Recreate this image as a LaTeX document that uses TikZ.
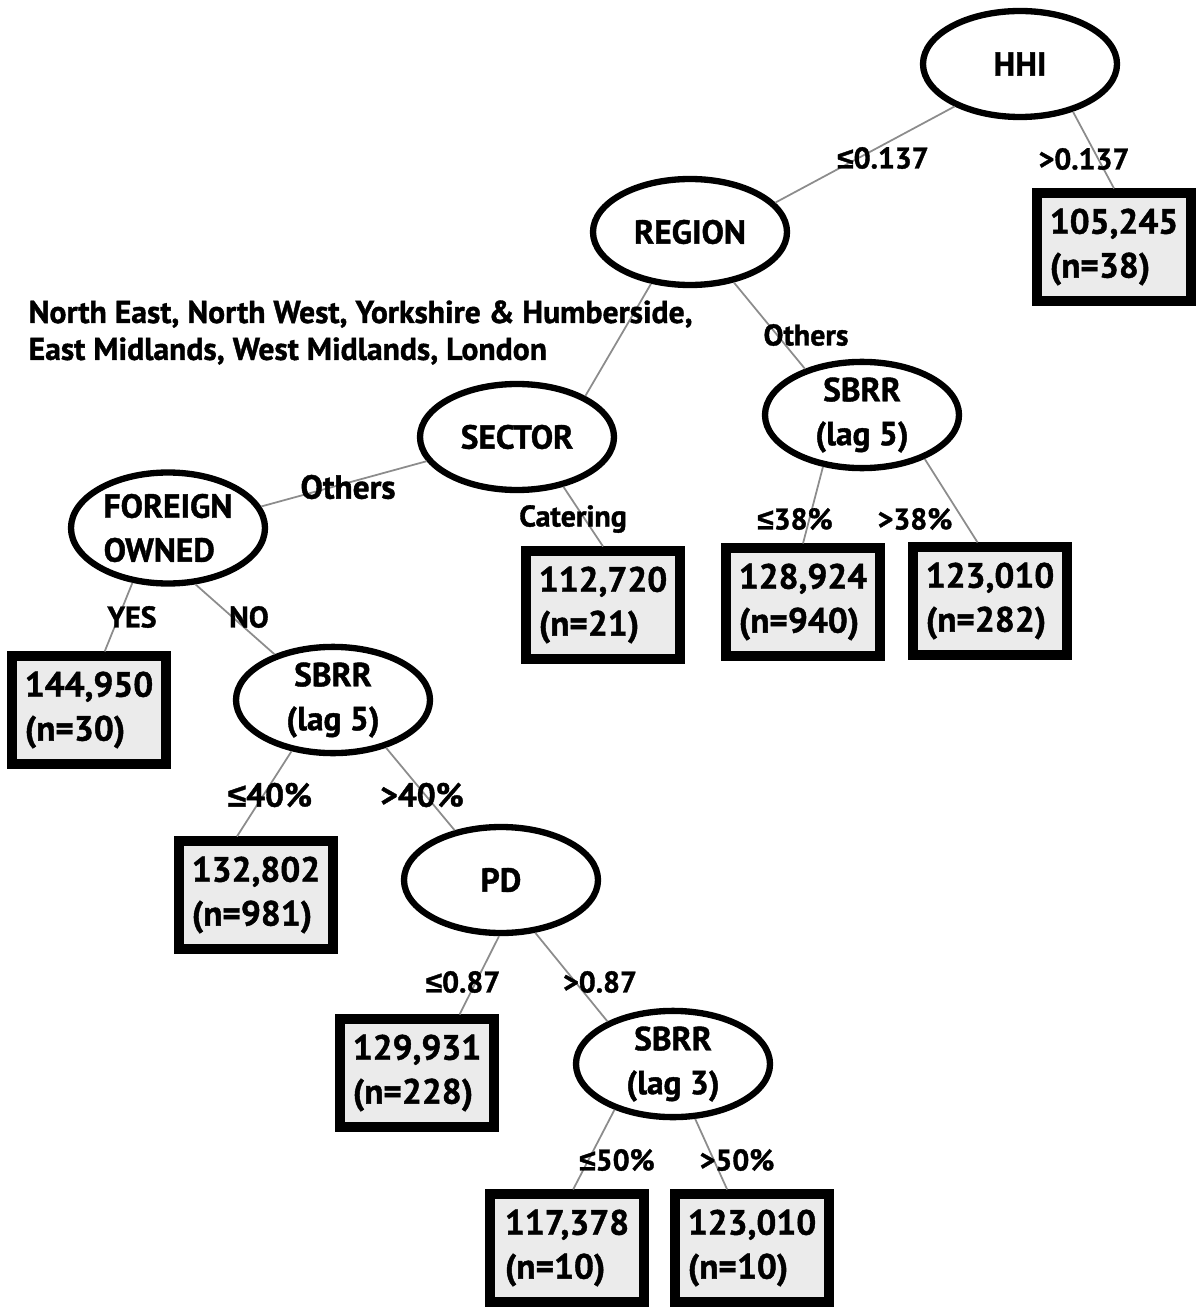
\documentclass[tikz,border=0pt]{standalone}
\usepackage{fontspec}
\setmainfont{PT Sans}[BoldFeatures={FakeBold=1.2}]
\newfontfamily\symfont{Liberation Sans}[BoldFeatures={FakeBold=1.2}]
\newcommand\lesym{{\symfont\bfseries ≤}}
\usetikzlibrary{shapes.geometric}

\begin{document}
\begin{tikzpicture}[font=\bfseries,
  split/.style={draw, ellipse, line width=1.8pt, inner sep=0pt, minimum width=1.94cm, minimum height=1.06cm, align=center, font=\bfseries\fontsize{9.5}{12.5}\selectfont},
  leaf/.style={draw, rectangle, line width=2.6pt, fill=black!8, inner sep=0pt, minimum width=1.54cm, minimum height=1.08cm, align=left, font=\bfseries\fontsize{10}{12.5}\selectfont},
  edge/.style={draw=black!45, line width=0.5pt},
  cond/.style={inner sep=0pt, font=\bfseries\fontsize{8.5}{10}\selectfont}]
\useasboundingbox (0,0) rectangle (12,-13.14);
% split nodes
\node[split] (hhi) at (10.20,-0.64) {HHI};
\node[split] (region) at (6.90,-2.32) {REGION};
\node[split] (sbrrr) at (8.62,-4.15) {SBRR\\(lag 5)};
\node[split] (sector) at (5.17,-4.37) {SECTOR};
\node[split, align=left, minimum height=1.11cm] (foreign) at (1.68,-5.28) {FOREIGN\\OWNED};
\node[split] (sbrrl) at (3.33,-7.00) {SBRR\\(lag 5)};
\node[split] (pd) at (5.01,-8.80) {PD};
\node[split] (sbrrt) at (6.73,-10.64) {SBRR\\(lag 3)};
% leaves
\node[leaf] (n38) at (11.14,-2.47) {105,245\\(n=38)};
\node[leaf] (n21) at (6.03,-6.05) {112,720\\(n=21)};
\node[leaf] (n940) at (8.03,-6.02) {128,924\\(n=940)};
\node[leaf] (n282) at (9.90,-6.01) {123,010\\(n=282)};
\node[leaf] (n30) at (0.89,-7.10) {144,950\\(n=30)};
\node[leaf] (n981) at (2.56,-8.95) {132,802\\(n=981)};
\node[leaf] (n228) at (4.17,-10.73) {129,931\\(n=228)};
\node[leaf] (n10a) at (5.67,-12.48) {117,378\\(n=10)};
\node[leaf] (n10b) at (7.52,-12.48) {123,010\\(n=10)};
% branches
\draw[edge] (hhi.213) -- (region.19);
\draw[edge] (hhi.318) -- (n38.north);
\draw[edge] (region.233) -- (sector.31);
\draw[edge] (region.311) -- (sbrrr.141);
\draw[edge] (sector.195) -- (foreign.13);
\draw[edge] (sector.313) -- (n21.north);
\draw[edge] (sbrrr.233) -- (n940.north);
\draw[edge] (sbrrr.325) -- (n282.102);
\draw[edge] (foreign.237) -- (n30.75);
\draw[edge] (foreign.296) -- (sbrrl.142);
\draw[edge] (sbrrl.231) -- (n981.108);
\draw[edge] (sbrrl.318) -- (pd.133);
\draw[edge] (pd.268) -- (n228.54);
\draw[edge] (pd.303) -- (sbrrt.147);
\draw[edge] (sbrrt.218) -- (n10a.84);
\draw[edge] (sbrrt.292) -- (n10b.113);
% branch labels
\node[cond] (c1) at (8.83,-1.58) {\lesym0.137};
\node[cond] (c2) at (10.84,-1.59) {>0.137};
\node[cond, anchor=west, align=left, font=\bfseries\fontsize{9}{10.5}\selectfont] (c3) at (0.28,-3.325) {North East, North West, Yorkshire \& Humberside,\\East Midlands, West Midlands, London};
\node[cond] (c4) at (8.06,-3.35) {Others};
\node[cond, font=\bfseries\fontsize{9.5}{11}\selectfont] (c5) at (3.48,-4.87) {Others};
\node[cond] (c6) at (5.73,-5.19) {Catering};
\node[cond] (c7) at (7.95,-5.19) {\lesym38\%};
\node[cond] (c8) at (9.15,-5.19) {>38\%};
\node[cond] (c9) at (1.32,-6.17) {YES};
\node[cond] (c10) at (2.49,-6.17) {NO};
\node[cond, font=\bfseries\fontsize{9.5}{11}\selectfont] (c11) at (2.70,-7.95) {\lesym40\%};
\node[cond, font=\bfseries\fontsize{9.5}{11}\selectfont] (c12) at (4.22,-7.95) {>40\%};
\node[cond] (c13) at (4.63,-9.82) {\lesym0.87};
\node[cond] (c14) at (6.00,-9.82) {>0.87};
\node[cond] (c15) at (6.17,-11.60) {\lesym50\%};
\node[cond] (c16) at (7.37,-11.60) {>50\%};
\end{tikzpicture}
\end{document}
